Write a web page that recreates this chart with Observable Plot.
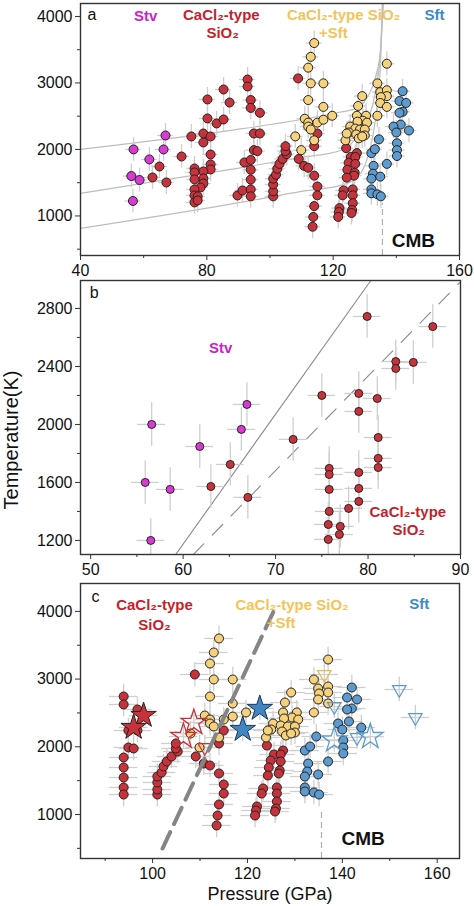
<!DOCTYPE html>
<html><head><meta charset="utf-8">
<script src="https://cdn.jsdelivr.net/npm/d3@7"></script>
<script src="https://cdn.jsdelivr.net/npm/@observablehq/plot@0.6"></script>
<style>
body{margin:0;background:#fff;}
#wrap{position:relative;width:474px;height:906px;overflow:hidden;}
</style></head><body><div id="wrap"></div>
<script>
// ---------------- DATA ----------------
// Panel a (low pressure part)  [P (GPa), T (K)]
const aStv = [[56.8,2000],[66.3,2000],[66.9,2210],[61.8,1850],[56.1,1600],[58.7,1540],[56.6,1225]];
const aLowRed = [[80.2,2752],[85.3,2902],[87.2,2706],[80.2,2466],[83.1,2391],[85.3,2451],[75.1,2195],[78.9,2240],[81.2,2195],[78.9,2105],[72,1894],[65,1744],[62.8,1579],[67.2,1503],[81.2,1924],[81.2,1774],[81.2,1699],[78.9,1669],[78.9,1564],[78.9,1488],[78,1428],[76.1,1714],[76.1,1654],[76.1,1549],[76.1,1398],[76.1,1308],[76.1,1203],[77.1,1293],[77.1,1233],[89.7,1308],[91.3,1383],[91.9,1804],[92.9,3052],[92.9,2947]];
// High pressure circles (panels a and c)
const hiRed = [[93.9,2743],[93.9,2625],[96.8,2551],[94.9,2240],[96.8,2240],[94.9,1990],[96.0,1975],[93.9,1842],[93.9,1694],[93.9,1546],[93.9,1399],[93.9,1295],[101,1295],[101,1369],[101,1473],[101,1561],[101.9,1620],[102.3,1709],[103,1783],[104,1857],[105.3,1930],[104.9,1975],[104.9,2049],[108.9,3068],[109.1,1857],[110.8,1753],[112.1,1724],[114,1606],[115,1443],[115,1310],[114,1148],[113.7,985],[113.5,838],[115,2240],[114,2049],[124.1,2019],[127.5,1945],[125.6,1886],[127,1886],[124.9,1798],[127,1783],[124.5,1694],[126.8,1650],[126.6,1606],[124.3,1576],[126.2,1399],[123.3,1384],[123,1310],[126.2,1310],[126.2,1192],[122,1118],[126,1089],[121.8,1059],[125.8,1044],[121.6,985]];
const hiYellow = [[114,3600],[112.9,3393],[112.1,3230],[112.9,2994],[116.9,2994],[112.1,2743],[116.9,2640],[111,2462],[112.1,2403],[112.1,2344],[112.9,2300],[115,2403],[116.9,2447],[114,2137],[108,2196],[109.9,1990],[137,3289],[134,2994],[134.9,2861],[137,2890],[137,2802],[135.1,2787],[134.9,2699],[137,2640],[134,2507],[129.2,2802],[127.9,2654],[130.4,2507],[127.5,2507],[129.4,2433],[130.7,2403],[127.7,2418],[125.4,2344],[127,2314],[128.5,2300],[130,2300],[125,2255],[127.3,2226],[130,2211],[123.9,2137],[128.1,2167],[119.7,2507],[124.3,2240],[129.2,2196]];
const hiBlue = [[142,2876],[141,2728],[143.1,2699],[142,2566],[141,2551],[141.4,2374],[139.1,2344],[144,2285],[140,2255],[134.5,2152],[132.1,1945],[133.2,2004],[140.2,2093],[140.2,1990],[140.2,1901],[137,1783],[132.8,1753],[132.6,1635],[134.9,1591],[132.1,1561],[132.1,1399],[132.1,1340],[134,1325],[135.1,1295]];
// Panel b
const bStv = [[56.6,2000],[66.9,2138],[66.3,1966],[61.8,1848],[55.9,1600],[58.6,1552],[56.5,1200]];
const bRed = [[63,1572],[65.1,1724],[71.9,1897],[67,1497],[81.1,1910],[81.1,1766],[81.1,1703],[75.8,1697],[75.8,1655],[75.8,1552],[75.8,1400],[75.7,1310],[75.7,1207],[77,1297],[76.9,1241],[79,1669],[79,1559],[79,1469],[77.9,1421],[79.9,2745],[87,2675],[83,2434],[83,2386],[84.9,2428],[75,2200],[79,2214],[79,2090],[81,2179]];
// Panel c extra symbols
const cStarRedFilled = [[98.1,2462],[96.0,2285]];
const cStarRedOpen = [[108.7,2359],[106.5,2152]];
const cStarBlueFilled = [[122.6,2566],[119,2255]];
const cStarBlueOpen = [[138.3,2100],[145.9,2150]];
const cTriRed = [[111,1990]];
const cTriYellow = [[136.2,3068]];
const cTriBlue = [[138.3,2595],[152,2846],[155.4,2433],[143.1,2137]];
// Phase boundary / geotherm curves
const aCurve1 = [[40,2000],[87.5,2286],[110,2450],[122,2560],[127.4,2617],[131,2800],[133.5,3100],[135,3500],[136,4300]];
const aCurve2 = [[40,1338],[87.5,1699],[110,1880],[122.3,1985],[127,2150],[131,2450],[133.5,2900],[135,3500],[135.8,4300]];
const aCurve3 = [[40,812],[90.7,1203],[110,1370],[122.3,1459],[127,1560],[131,1900],[133.5,2500],[135,3300],[135.6,4300]];
const bSolid = [[59.2,1103],[80.3,2993]];
const bDashed = [[61.1,1103],[90,2984]];
const cDashed = [[102.1,498],[125.6,4015]];
const CMB_P = 135.6;
// Error bar half widths
const errA = [2.5, 180], errB = [1.5, 150], errC = [3, 180];
// Tick values
const aXMajor = [40,80,120,160], aXMinor = [60,100,140];
const aYMajor = [1000,2000,3000,4000], aYMinor = [500,1500,2500,3500];
const bXMajor = [50,60,70,80,90], bXMinor = [55,65,75,85];
const bYMajor = [1200,1600,2000,2400,2800], bYMinor = [1400,1800,2200,2600];
const cXMajor = [100,120,140,160], cXMinor = [90,110,130,150];
const cYMajor = [1000,2000,3000,4000], cYMinor = [500,1500,2500,3500];
// Labels [P, T, text]
const aLabels = {stv:[[60.6,4000,"Stv"]], red:[[84.6,4015,"CaCl₂-type"],[85,3744,"SiO₂"]], yel:[[123.3,4015,"CaCl₂-type SiO₂"],[120.1,3744,"+Sft"]], blue:[[152.1,4015,"Sft"]], cmb:[[145.4,631,"CMB"]], letter:[[42.2,4030,"a"]]};
const bLabels = {stv:[[64.05,2524,"Stv"]], red:[[84.3,1393,"CaCl₂-type"],[84.4,1269,"SiO₂"]], letter:[[49.9,2910,"b"]]};
const cLabels = {red:[[100.4,4087,"CaCl₂-type"],[100.4,3792,"SiO₂"]], yel:[[129.4,4087,"CaCl₂-type SiO₂"],[127.1,3821,"+Sft"]], blue:[[156.2,4102,"Sft"]], cmb:[[144.4,646,"CMB"]], letter:[[87.1,4220,"c"]]};

// ---------------- STYLE ----------------
const FONT = '"Liberation Sans", Arial, Helvetica, sans-serif';
const COL = {stv:"#d93ad3", red:"#c8333b", yel:"#f6d27c", blue:"#5b9bcf"};
const TXT = {stv:"#cc22cc", red:"#c41f2d", yel:"#f2c45a", blue:"#3d8bc4"};
const ERR = "#cfcfcf";
const tri = {draw(ctx, size){ const y = -Math.sqrt(size/(Math.sqrt(3)*3)); const s3 = Math.sqrt(3);
  ctx.moveTo(0,-y*2); ctx.lineTo(-s3*y,y); ctx.lineTo(s3*y,y); ctx.closePath(); }};

const P = d => d[0], T = d => d[1];
function errs(data, e){
  return [
    Plot.ruleY(data, {y: T, x1: d => d[0]-e[0], x2: d => d[0]+e[0], stroke: ERR, strokeWidth: 1.3, clip: true}),
    Plot.ruleX(data, {x: P, y1: d => d[1]-e[1], y2: d => d[1]+e[1], stroke: ERR, strokeWidth: 1.3, clip: true})
  ];
}
function dots(data, fill, r, extra={}){
  return Plot.dot(data, {x: P, y: T, r, fill, stroke: "#222", strokeWidth: 1, fillOpacity: 1, ...extra});
}
function labels(lbl, fontSize){
  const out = [];
  for (const k of ["stv","red","yel","blue"]) if (lbl[k]) out.push(Plot.text(lbl[k], {x: P, y: T, text: d => d[2], fill: TXT[k], fontWeight: "bold", fontSize}));
  if (lbl.cmb) out.push(Plot.text(lbl.cmb, {x: P, y: T, text: d => d[2], fill: "#111", fontWeight: "bold", fontSize: 19}));
  out.push(Plot.text(lbl.letter, {x: P, y: T, text: d => d[2], fill: "#111", fontSize: 16, textAnchor: "start"}));
  return out;
}
const fmt = d => String(d);
function axes(xM, xm, yM, ym){
  const common = {stroke: "#333", fontSize: 16, label: null};
  return [
    Plot.axisX(xM, {...common, tickSize: 5, tickPadding: 4, tickFormat: fmt}),
    Plot.axisX(xm, {...common, tickSize: 3, tickFormat: () => ""}),
    Plot.axisY(yM, {...common, tickSize: 5, tickPadding: 3, tickFormat: fmt}),
    Plot.axisY(ym, {...common, tickSize: 3, tickFormat: () => ""}),
    Plot.frame({stroke: "#333", strokeWidth: 1.4})
  ];
}
const baseStyle = {fontFamily: FONT, fontSize: "16px", background: "transparent", overflow: "visible", color: "#111"};

// ---------------- PANEL A ----------------
const plotA = Plot.plot({
  width: 474, height: 280, marginTop: 3, marginBottom: 25, marginLeft: 80, marginRight: 15,
  x: {domain: [40,160], label: null}, y: {domain: [405,4195], label: null},
  style: baseStyle,
  marks: [
    ...[aCurve1, aCurve2, aCurve3].map(c => Plot.line(c, {x: P, y: T, curve: "monotone-x", stroke: "#bdbdbd", strokeWidth: 1.2, clip: true})),
    Plot.ruleX([CMB_P], {x: d => d, y1: 405, y2: 1190, stroke: "#b0b0b0", strokeWidth: 1.2, strokeDasharray: "6,4"}),
    ...errs([...aStv, ...aLowRed, ...hiRed, ...hiYellow, ...hiBlue], errA),
    dots(aStv, COL.stv, 4.5), dots(aLowRed, COL.red, 4.5), dots(hiRed, COL.red, 4.5),
    dots(hiYellow, COL.yel, 4.5), dots(hiBlue, COL.blue, 4.5),
    ...labels(aLabels, 15),
    ...axes(aXMajor, aXMinor, aYMajor, aYMinor)
  ]
});

// ---------------- PANEL B ----------------
const plotB = Plot.plot({
  width: 474, height: 309, marginTop: 10, marginBottom: 25, marginLeft: 80, marginRight: 14,
  x: {domain: [48.9,90], label: null}, y: {domain: [1103,2993], label: null},
  style: baseStyle,
  marks: [
    Plot.line(bSolid, {x: P, y: T, stroke: "#8a8a8a", strokeWidth: 1.1, clip: true}),
    Plot.line(bDashed, {x: P, y: T, stroke: "#8a8a8a", strokeWidth: 1.1, strokeDasharray: "15,12", clip: true}),
    ...errs([...bStv, ...bRed], errB),
    dots(bStv, COL.stv, 4), dots(bRed, COL.red, 4),
    ...labels(bLabels, 15),
    ...axes(bXMajor, bXMinor, bYMajor, bYMinor)
  ]
});

// ---------------- PANEL C ----------------
const allC = [...hiRed, ...hiYellow, ...hiBlue, ...cStarRedFilled, ...cStarRedOpen, ...cStarBlueFilled, ...cStarBlueOpen, ...cTriRed, ...cTriYellow, ...cTriBlue];
const plotC = Plot.plot({
  width: 474, height: 333, marginTop: 10, marginBottom: 48, marginLeft: 80, marginRight: 15,
  x: {domain: [84.8,164.7], label: null}, y: {domain: [350,4412], label: null},
  style: baseStyle,
  marks: [
    Plot.ruleX([CMB_P], {x: d => d, y1: 350, y2: 1050, stroke: "#b0b0b0", strokeWidth: 1.2, strokeDasharray: "6,4"}),
    ...errs(allC, errC),
    dots(hiRed, COL.red, 4.5), dots(hiYellow, COL.yel, 4.5), dots(hiBlue, COL.blue, 4.5),
    dots(cStarRedFilled, COL.red, 8, {symbol: "star", stroke: "#222"}),
    dots(cStarRedOpen, "white", 8, {symbol: "star", stroke: COL.red, strokeWidth: 1.3, fillOpacity: 0}),
    dots(cStarBlueFilled, "#3f86c2", 8, {symbol: "star", stroke: "#1a3550"}),
    dots(cStarBlueOpen, "white", 8, {symbol: "star", stroke: COL.blue, strokeWidth: 1.3, fillOpacity: 0}),
    dots(cTriRed, "white", 5, {symbol: tri, stroke: COL.red, strokeWidth: 1.2, fillOpacity: 0}),
    dots(cTriYellow, "white", 5, {symbol: tri, stroke: "#e8b84a", strokeWidth: 1.2, fillOpacity: 0}),
    dots(cTriBlue, "white", 5, {symbol: tri, stroke: COL.blue, strokeWidth: 1.2, fillOpacity: 0}),
    Plot.line(cDashed, {x: P, y: T, stroke: "#858585", strokeWidth: 4, strokeDasharray: "18,9", clip: true}),
    ...labels(cLabels, 15),
    ...axes(cXMajor, cXMinor, cYMajor, cYMinor)
  ]
});

const wrap = document.getElementById("wrap");
[[plotA,0],[plotB,270],[plotC,573]].forEach(([el, top]) => {
  el.style.position = "absolute"; el.style.left = "0px"; el.style.top = top + "px";
  wrap.appendChild(el);
});
// Axis titles
const ns = "http://www.w3.org/2000/svg";
const ov = document.createElementNS(ns, "svg");
ov.setAttribute("width", 474); ov.setAttribute("height", 906);
ov.style.position = "absolute"; ov.style.left = "0"; ov.style.top = "0"; ov.style.pointerEvents = "none";
const t1 = document.createElementNS(ns, "text");
t1.setAttribute("transform", "translate(18,440) rotate(-90)");
t1.setAttribute("text-anchor", "middle"); t1.setAttribute("font-size", "20"); t1.setAttribute("font-family", FONT); t1.setAttribute("fill", "#111");
t1.textContent = "Temperature(K)";
const t2 = document.createElementNS(ns, "text");
t2.setAttribute("x", 270); t2.setAttribute("y", 900);
t2.setAttribute("text-anchor", "middle"); t2.setAttribute("font-size", "18"); t2.setAttribute("font-family", FONT); t2.setAttribute("fill", "#111");
t2.textContent = "Pressure (GPa)";
ov.appendChild(t1); ov.appendChild(t2);
wrap.appendChild(ov);
</script></body></html>
